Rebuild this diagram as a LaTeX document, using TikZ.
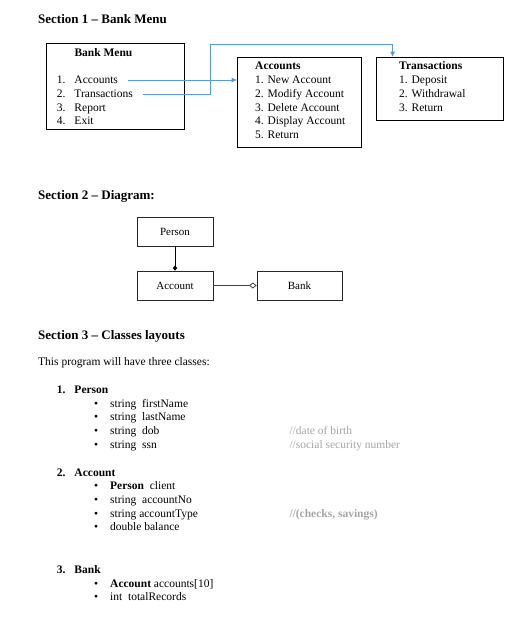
\documentclass[tikz,border=0pt]{standalone}
\usepackage{fontspec}
\setmainfont{Liberation Serif}
\usetikzlibrary{
	arrows.meta,
	positioning,
	calc
}
\definecolor{menublue}{HTML}{5B9BD5}
\definecolor{notegray}{HTML}{A6A6A6}

\newcommand{\num}[1]{\makebox[17.6pt][l]{#1}}
\newcommand{\bul}{\makebox[16pt][l]{\textbullet}}

\begin{document}
\begin{tikzpicture}[x=1pt,y=-1pt,
		txt/.style={anchor=base west,inner sep=0pt,font=\fontsize{11.5}{13.7}\selectfont},
		head/.style={anchor=base west,inner sep=0pt,font=\fontsize{13}{15}\selectfont\bfseries},
		note/.style={txt,text=notegray},
		frame/.style={draw,line width=0.8pt,inner sep=0pt},
		umlbox/.style={frame,draw=black!85,minimum width=76pt,minimum height=29pt,font=\fontsize{11}{13}\selectfont},
		menuarrow/.style={draw=menublue,line width=0.9pt,-{Triangle[length=5pt,width=4.5pt]}}
	]
	
	\useasboundingbox[fill=white] (0,0) rectangle (518,644);
	
	% section 1
	\node[head] (secone) at (38,24) {Section 1 -- Bank Menu};
	
	\node[frame,minimum width=138pt,minimum height=86pt] (menubox) at (115,86) {};
	\node[txt,font=\fontsize{11.5}{13.7}\selectfont\bfseries] (menutitle) at (74.3,56.7) {Bank Menu};
	\node[txt] (mAcc) at (56.7,84) {\num{1.}Accounts};
	\node[txt] (mTr) at (56.7,97.7) {\num{2.}Transactions};
	\node[txt] (mRep) at (56.7,111.4) {\num{3.}Report};
	\node[txt] (mExit) at (56.7,125) {\num{4.}Exit};
	
	\node[frame,minimum width=124pt,minimum height=90pt] (accbox) at (299,102) {};
	\node[txt,font=\fontsize{11.5}{13.7}\selectfont\bfseries] (acctitle) at (255,70) {Accounts};
	\node[txt] (aNew) at (255,84) {1. New Account};
	\node[txt] (aMod) at (255,97.7) {2. Modify Account};
	\node[txt] (aDel) at (255,111.4) {3. Delete Account};
	\node[txt] (aDisp) at (255,125) {4. Display Account};
	\node[txt] (aRet) at (255,138.7) {5. Return};
	
	\node[frame,minimum width=127pt,minimum height=63pt] (trbox) at (439.5,88.5) {};
	\node[txt,font=\fontsize{11.5}{13.7}\selectfont\bfseries] (trtitle) at (399,70) {Transactions};
	\node[txt] (tDep) at (399,84) {1. Deposit};
	\node[txt] (tWd) at (399,97.7) {2. Withdrawal};
	\node[txt] (tRet) at (399,111.4) {3. Return};
	
	\coordinate (accstart) at ([xshift=10pt,yshift=4pt]mAcc.base east);
	\coordinate (trstart) at ([xshift=10pt,yshift=3.5pt]mTr.base east);
	\coordinate (trtop) at ([xshift=17pt]trbox.north west);
	
	\draw[menuarrow] (accstart) -- (accstart -| accbox.west);
	\draw[menuarrow] (trstart) -- (210,94.2) |- ([yshift=12pt]trtop) -- (trtop);
	
	% section 2
	\node[head] (sectwo) at (38,199.5) {Section 2 -- Diagram:};
	
	\node[umlbox] (person) at (175,231.5) {Person};
	\node[umlbox] (account) at (175,285.5) {Account};
	\node[umlbox,minimum width=85pt] (bank) at (299.5,285.5) {Bank};
	
	\draw[line width=0.8pt,-{Diamond[length=5pt,width=4.5pt]}] (person) -- (account);
	\draw[line width=0.8pt,draw=black!75,-{Diamond[open,length=7.5pt,width=6pt]}] (account) -- (bank);
	
	% section 3
	\node[head] (secthree) at (38,339.5) {Section 3 -- Classes layouts};
	\node[txt] (intro) at (38,365.3) {This program will have three classes:};
	
	\node[txt,font=\fontsize{11.5}{13.7}\selectfont\bfseries] (clsPerson) at (56.7,393) {\num{1.}Person};
	\node[txt] (pFirst) at (94,407) {\bul string~ firstName};
	\node[txt] (pLast) at (94,420.7) {\bul string~ lastName};
	\node[txt] (pDob) at (94,434.4) {\bul string~ dob};
	\node[txt] (pSsn) at (94,448) {\bul string~ ssn};
	\node[note] (nDob) at (289.3,434.4) {//date of birth};
	\node[note] (nSsn) at (289.3,448) {//social security number};
	
	\node[txt,font=\fontsize{11.5}{13.7}\selectfont\bfseries] (clsAccount) at (56.7,476) {\num{2.}Account};
	\node[txt] (aClient) at (94,489.7) {\bul \textbf{Person}~ client};
	\node[txt] (aNo) at (94,503.4) {\bul string~ accountNo};
	\node[txt] (aType) at (94,517) {\bul string accountType};
	\node[txt] (aBal) at (94,530.8) {\bul double balance};
	\node[note,font=\fontsize{11.5}{13.7}\selectfont\bfseries] (nType) at (289.3,517) {//(checks, savings)};
	
	\node[txt,font=\fontsize{11.5}{13.7}\selectfont\bfseries] (clsBank) at (56.7,573.5) {\num{3.}Bank};
	\node[txt] (bAccs) at (94,587) {\bul \textbf{Account} accounts[10]};
	\node[txt] (bTotal) at (94,600.7) {\bul int~ totalRecords};
	
\end{tikzpicture}
\end{document}
